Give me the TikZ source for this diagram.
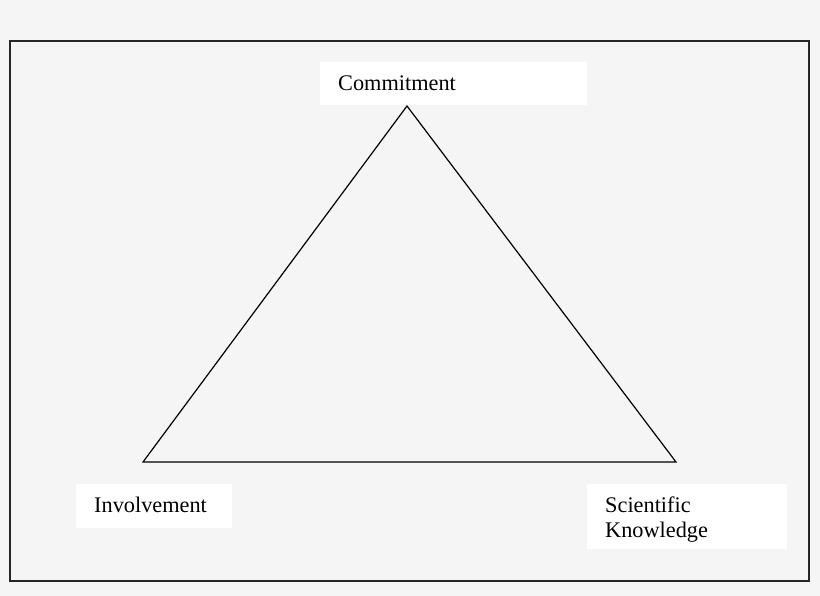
\documentclass[tikz,border=0pt]{standalone}
\usepackage{fontspec}
\setmainfont{Liberation Serif}
\definecolor{bg}{HTML}{F5F5F5}
\tikzset{lbl/.style={fill=white,inner sep=0pt,anchor=north west},
 txt/.style={inner sep=0pt,font=\fontsize{22.3}{25}\selectfont}}
\begin{document}
\begin{tikzpicture}[x=1pt,y=-1pt]
\fill[bg] (0,0) rectangle (820,596);
\useasboundingbox (0,0) rectangle (820,596);
\draw[line width=1.2pt,black!85] (10,41) rectangle (809,581);
\node[lbl,minimum width=267pt,minimum height=43pt] (cb) at (320,62) {};
\node[lbl,minimum width=156pt,minimum height=44pt] (ib) at (76,484) {};
\node[lbl,minimum width=200pt,minimum height=65pt] (sb) at (587,484) {};
\node[txt,anchor=base west] (c) at (338,91) {Commitment};
\node[txt,anchor=base west] (i) at (94,512) {Involvement};
\node[txt,anchor=base west,align=left] (s) at (605,512) {Scientific};
\node[txt,anchor=base west,align=left] (s2) at (605,537) {Knowledge};
\coordinate (t) at (407,106);
\coordinate (l) at (143,462);
\coordinate (r) at (676,462);
\draw[line width=1.2pt] (t) -- (l) -- (r) -- cycle;
\end{tikzpicture}
\end{document}
